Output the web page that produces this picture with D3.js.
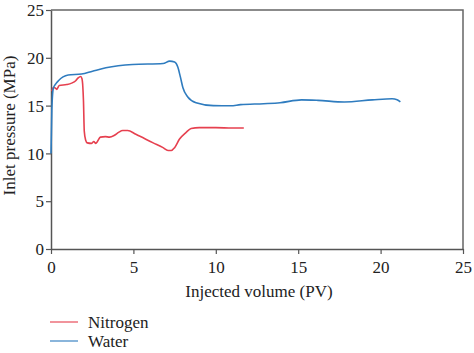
<!DOCTYPE html>
<html>
<head>
<meta charset="utf-8">
<script src="https://d3js.org/d3.v7.min.js"></script>
<style>
  body { margin: 0; background: #fff; }
  text { font-family: "Liberation Serif", "DejaVu Serif", serif; fill: #222; }
</style>
</head>
<body>
<script>
// Nitrogen injection: [injected volume (PV), inlet pressure (MPa)]
const nitrogenX = [0.05, 0.14, 0.25, 0.35, 0.5, 0.95, 1.25, 1.5, 1.65, 1.8, 1.88, 1.93, 1.97, 2.02, 2.1, 2.2, 2.45, 2.6, 2.7, 2.8, 3.0, 3.3, 3.55, 3.85, 4.1, 4.35, 4.65, 5.15, 6.2, 6.8, 7.1, 7.3, 7.5, 7.8, 8.2, 8.5, 9.0, 10.0, 11.0, 11.7];
const nitrogenY = [16.5, 16.9, 16.85, 16.7, 17.1, 17.2, 17.35, 17.6, 17.9, 18.05, 17.8, 17.0, 15.5, 12.3, 11.4, 11.1, 11.05, 11.25, 11.05, 11.2, 11.7, 11.75, 11.7, 11.9, 12.2, 12.4, 12.4, 12.0, 11.1, 10.6, 10.3, 10.3, 10.6, 11.5, 12.2, 12.6, 12.7, 12.7, 12.65, 12.65];

// Water injection
const waterX = [0, 0.05, 0.14, 0.3, 0.45, 0.73, 1.04, 1.85, 2.52, 3.33, 4.95, 6.8, 7.2, 7.5, 7.7, 7.85, 8.0, 8.3, 8.8, 9.85, 10.9, 11.5, 12.9, 13.9, 15.2, 16.2, 17.8, 19.5, 20.7, 21.0, 21.2];
const waterY = [10.0, 14.5, 16.8, 17.3, 17.6, 18.0, 18.2, 18.3, 18.6, 18.95, 19.3, 19.4, 19.65, 19.55, 19.0, 18.0, 16.9, 15.9, 15.3, 15.0, 14.98, 15.1, 15.2, 15.3, 15.6, 15.55, 15.38, 15.6, 15.72, 15.62, 15.4];

const xTicks = [0, 5, 10, 15, 20, 25];
const yTicks = [0, 5, 10, 15, 20, 25];

const seriesNames = ["Nitrogen", "Water"];
const seriesColors = ["#e6404f", "#2f7cbf"];

const width = 474, height = 353;
const margin = {top: 10, right: 11, bottom: 104, left: 51};
const innerW = width - margin.left - margin.right;
const innerH = height - margin.top - margin.bottom;

const svg = d3.select("body").append("svg")
    .attr("width", width)
    .attr("height", height);

const g = svg.append("g")
    .attr("transform", `translate(${margin.left},${margin.top})`);

const xscale = d3.scaleLinear().domain([0, 25]).range([0, innerW]);
const yscale = d3.scaleLinear().domain([0, 25]).range([innerH, 0]);

// frame (top and right)
g.append("path")
    .attr("d", `M0,0H${innerW}V${innerH}`)
    .attr("fill", "none")
    .attr("stroke", "#666")
    .attr("stroke-width", 1.5);

const xaxis = g.append("g")
    .attr("transform", `translate(0,${innerH})`)
    .call(d3.axisBottom(xscale).tickValues(xTicks).tickSize(5).tickSizeOuter(0));
const yaxis = g.append("g")
    .call(d3.axisLeft(yscale).tickValues(yTicks).tickSize(5).tickSizeOuter(0));

[xaxis, yaxis].forEach(a => {
    a.select(".domain").attr("stroke", "#555").attr("stroke-width", 1.5);
    a.selectAll(".tick line").attr("stroke", "#555").attr("stroke-width", 1.2);
    a.selectAll(".tick text")
        .attr("font-family", "Liberation Serif, serif")
        .attr("font-size", 17)
        .attr("fill", "#222");
});
xaxis.selectAll(".tick text").attr("dy", "0.95em");
yaxis.selectAll(".tick text").attr("x", -7).attr("dy", "0.33em");

// axis titles
g.append("text")
    .attr("x", innerW / 2 + 2)
    .attr("y", innerH + 48)
    .attr("text-anchor", "middle")
    .attr("font-size", 17)
    .text("Injected volume (PV)");

g.append("text")
    .attr("transform", `translate(${-36},${innerH / 2 - 4}) rotate(-90)`)
    .attr("text-anchor", "middle")
    .attr("font-size", 17)
    .text("Inlet pressure (MPa)");

const line = d3.line()
    .x(d => xscale(d[0]))
    .y(d => yscale(d[1]))
    .curve(d3.curveMonotoneX);

const series = [
    d3.zip(nitrogenX, nitrogenY),
    d3.zip(waterX, waterY)
];

series.forEach((s, i) => {
    g.append("path")
        .datum(s)
        .attr("fill", "none")
        .attr("stroke", seriesColors[i])
        .attr("stroke-width", 1.6)
        .attr("d", line);
});

// legend
const legend = svg.append("g").attr("transform", "translate(50,322)");
seriesNames.forEach((name, i) => {
    const row = legend.append("g").attr("transform", `translate(0,${i * 19})`);
    row.append("line")
        .attr("x1", 0).attr("x2", 28)
        .attr("stroke", seriesColors[i])
        .attr("stroke-opacity", 0.75)
        .attr("stroke-width", 1.5);
    row.append("text")
        .attr("x", 38)
        .attr("dy", "0.35em")
        .attr("font-size", 17)
        .text(name);
});
</script>
</body>
</html>
